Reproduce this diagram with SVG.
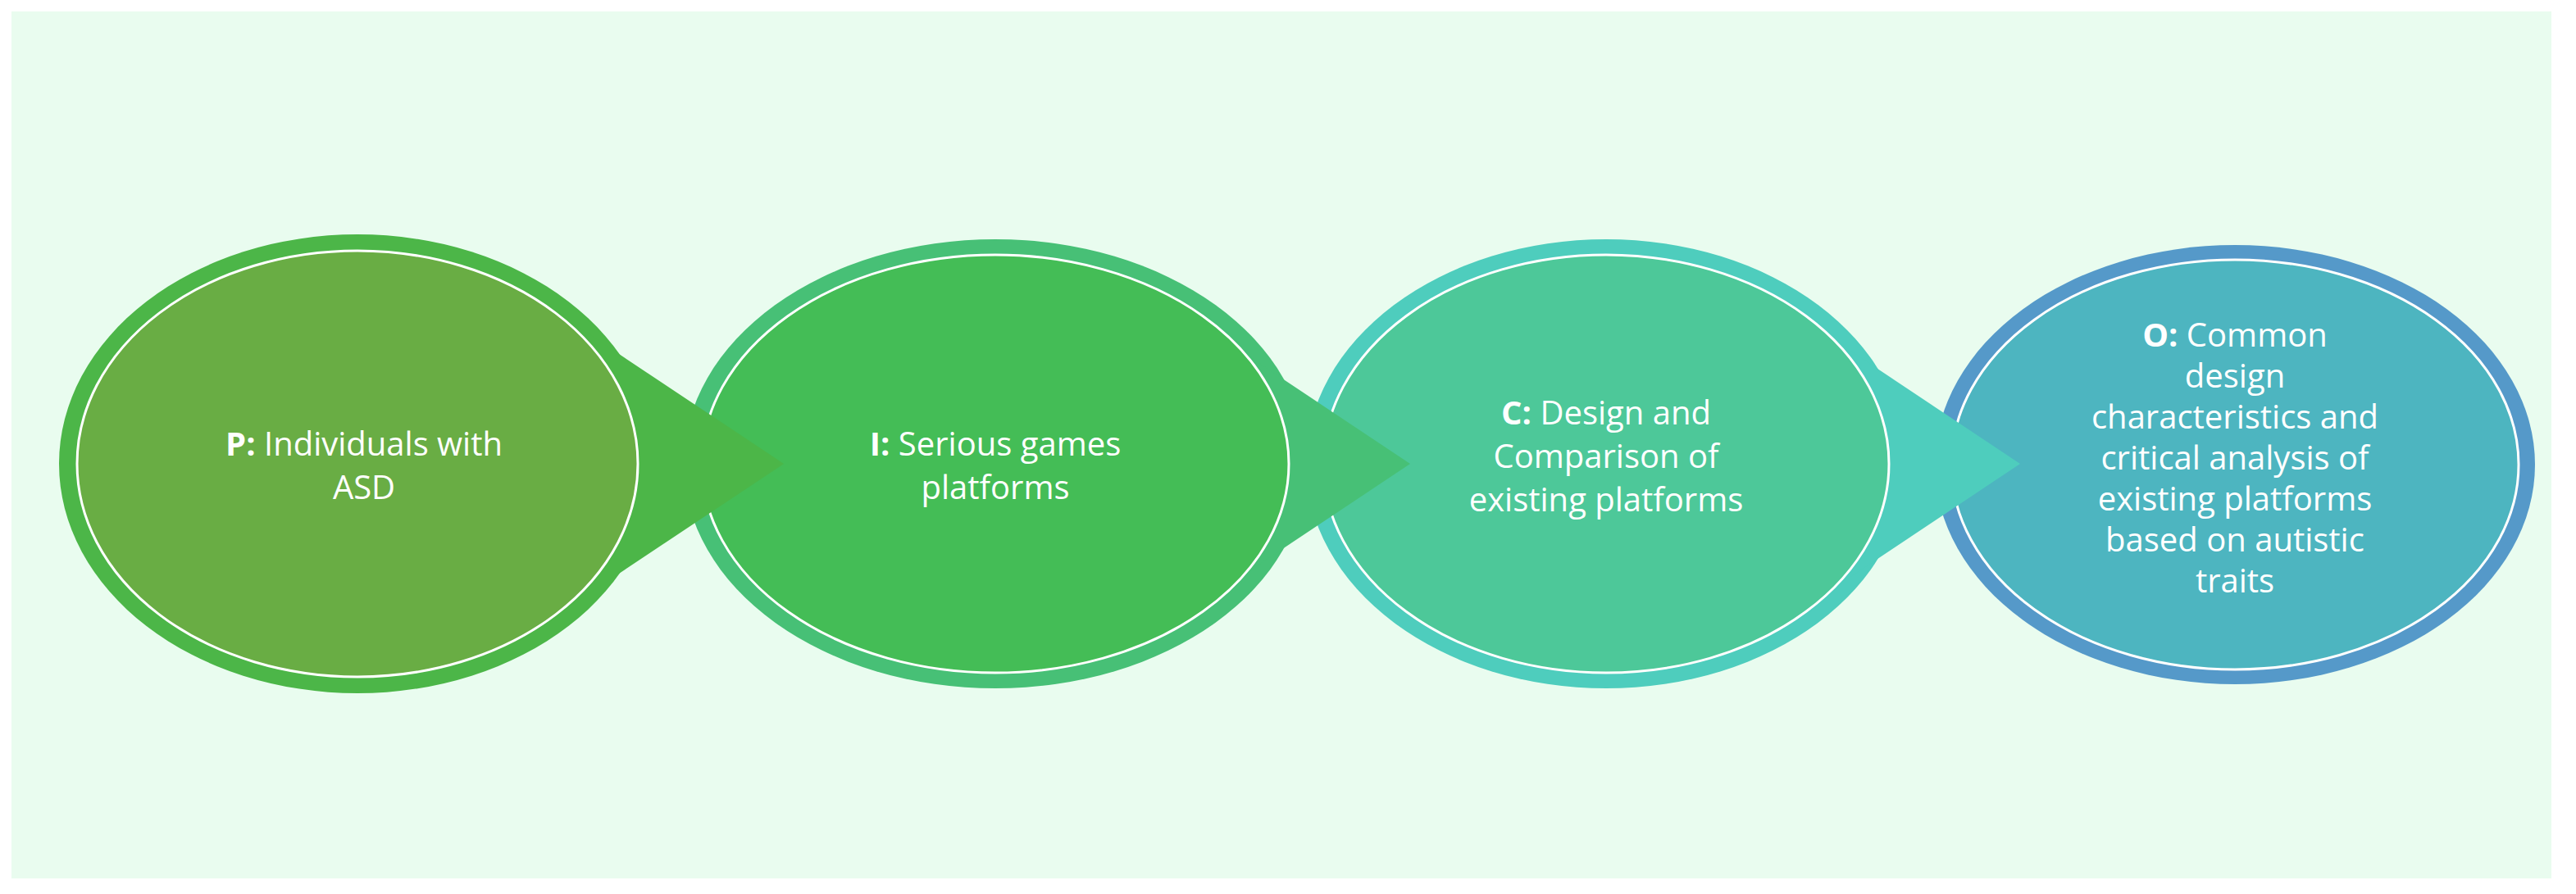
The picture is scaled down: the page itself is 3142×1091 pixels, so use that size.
<svg xmlns="http://www.w3.org/2000/svg" width="3142" height="1091" viewBox="0 0 3142 1091">
<style>
.in{stroke:#ffffff;stroke-width:3}
text{font-family:"Open Sans","Liberation Sans",sans-serif;font-size:40px;fill:#ffffff;text-anchor:middle}
.b{font-weight:bold}
</style>
<rect x="0" y="0" width="3142" height="1091" fill="#ffffff"/>
<rect x="14" y="14" width="3098" height="1058" fill="#e9fcef"/>
<g id="node-o">
<ellipse cx="2726" cy="567" rx="366" ry="268" fill="#5599c9"/>
<ellipse cx="2726" cy="567" rx="346" ry="250" fill="#4db5c0" class="in"/>
<text x="2726" y="423"><tspan class="b">O:</tspan> Common</text>
<text x="2726" y="473">design</text>
<text x="2726" y="523">characteristics and</text>
<text x="2726" y="573">critical analysis of</text>
<text x="2726" y="623">existing platforms</text>
<text x="2726" y="673">based on autistic</text>
<text x="2726" y="723">traits</text>
</g>
<g id="node-c">
<ellipse cx="1959" cy="566" rx="366" ry="274" fill="#4ecdbd"/>
<polygon points="2464,566 2140,350 2140,782" fill="#4ecdbd"/>
<ellipse cx="1959" cy="566" rx="345" ry="255" fill="#4dc899" class="in"/>
<text x="1959" y="518"><tspan class="b">C:</tspan> Design and</text>
<text x="1959" y="571">Comparison of</text>
<text x="1959" y="624">existing platforms</text>
</g>
<g id="node-i">
<ellipse cx="1214" cy="566" rx="380" ry="274" fill="#47c076"/>
<polygon points="1720,566 1396,350 1396,782" fill="#47c076"/>
<ellipse cx="1214" cy="566" rx="358" ry="255" fill="#44bd56" class="in"/>
<text x="1214" y="556"><tspan class="b">I:</tspan> Serious games</text>
<text x="1214" y="609">platforms</text>
</g>
<g id="node-p">
<ellipse cx="436" cy="566" rx="364" ry="280" fill="#4cb648"/>
<polygon points="956,566 632,350 632,782" fill="#4cb648"/>
<ellipse cx="436" cy="566" rx="342" ry="260" fill="#69ad44" class="in"/>
<text x="444" y="556"><tspan class="b">P:</tspan> Individuals with</text>
<text x="444" y="609">ASD</text>
</g>
<g id="connectors"></g>
</svg>
